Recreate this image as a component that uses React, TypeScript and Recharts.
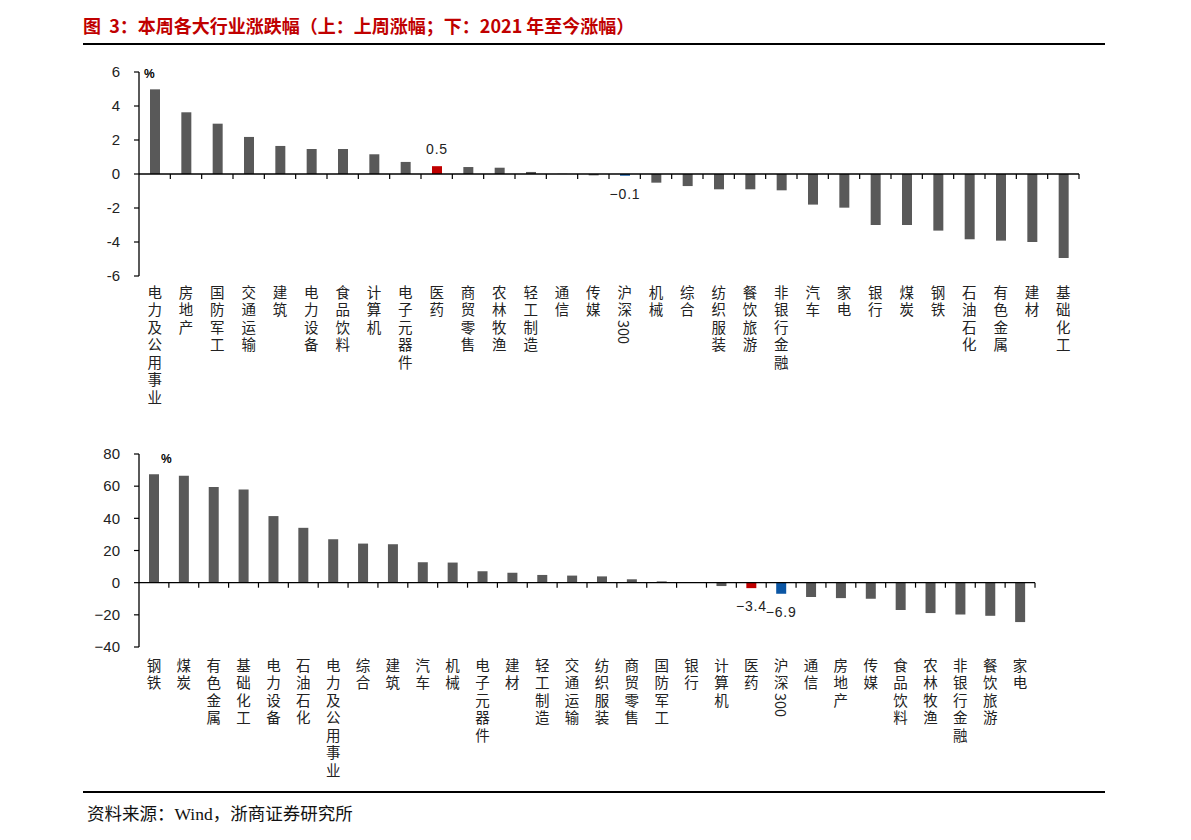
import { BarChart, Bar, XAxis, YAxis, Cell, ReferenceLine, LabelList } from "recharts"

// 上周涨幅
const weekCats = [
  "电力及公用事业", "房地产", "国防军工", "交通运输", "建筑", "电力设备", "食品饮料", "计算机",
  "电子元器件", "医药", "商贸零售", "农林牧渔", "轻工制造", "通信", "传媒", "沪深300", "机械",
  "综合", "纺织服装", "餐饮旅游", "非银行金融", "汽车", "家电", "银行", "煤炭", "钢铁",
  "石油石化", "有色金属", "建材", "基础化工",
]
const weekVals = [
  4.98, 3.63, 2.96, 2.18, 1.65, 1.47, 1.47, 1.16, 0.71, 0.46, 0.41, 0.37, 0.12, 0.01, -0.08,
  -0.1, -0.51, -0.71, -0.9, -0.9, -0.96, -1.8, -1.98, -3.0, -3.0, -3.33, -3.84, -3.92, -4.0, -4.94,
]
const weekTicks = [-6, -4, -2, 0, 2, 4, 6]

// 2021 年至今涨幅
const ytdCats = [
  "钢铁", "煤炭", "有色金属", "基础化工", "电力设备", "石油石化", "电力及公用事业", "综合", "建筑",
  "汽车", "机械", "电子元器件", "建材", "轻工制造", "交通运输", "纺织服装", "商贸零售", "国防军工",
  "银行", "计算机", "医药", "沪深300", "通信", "房地产", "传媒", "食品饮料", "农林牧渔",
  "非银行金融", "餐饮旅游", "家电",
]
const ytdVals = [
  67.4, 66.5, 59.5, 58.0, 41.4, 34.1, 27.0, 24.3, 23.9, 12.7, 12.5, 7.1, 6.2, 4.8, 4.4, 3.9,
  2.1, 0.8, 0.1, -2.1, -3.4, -6.9, -8.9, -9.6, -10.0, -17.0, -18.9, -19.8, -20.6, -24.5,
]
const ytdTicks = [-40, -20, 0, 20, 40, 60, 80]

const highlight: Record<string, string> = { "医药": "#C00000", "沪深300": "#0B56A4" }
const GRAY = "#595959"

const numFont = '"Liberation Sans", Arial, sans-serif'
const cjkFont = '"Noto Sans CJK SC", sans-serif'

const CatTick = (dy: number) => ({ x, y, payload }: any) => {
  const parts = String(payload.value).split(/(\d+)/).filter((s) => s)
  return (
    <text
      x={x}
      y={y + dy}
      style={{ writingMode: "vertical-rl" }}
      fontSize={14.5}
      fill="#222"
      fontFamily={cjkFont}
    >
      {parts.map((s, i) => (
        <tspan key={i} letterSpacing={/\d/.test(s) ? 0 : 3}>{s}</tspan>
      ))}
    </text>
  )
}

const zeroAxis = (n: number) => (p: any) => {
  const { x1, x2, y1 } = p
  const step = (x2 - x1) / n
  return (
    <g>
      <line x1={x1} x2={x2} y1={y1} y2={y1} stroke="#000" strokeWidth={1.3} />
      {Array.from({ length: n }, (_, i) => (
        <line key={i} x1={x1 + step * (i + 1)} x2={x1 + step * (i + 1)} y1={y1} y2={y1 + 5} stroke="#000" strokeWidth={1.2} />
      ))}
    </g>
  )
}

const valueLabel = (cats: string[]) => (p: any) => {
  const { x, y, width, height, value, index } = p
  if (!highlight[cats[index]]) return null
  const top = Math.min(y, y + height)
  const bottom = Math.max(y, y + height)
  const cy = value >= 0 ? top - 17 : bottom + 18
  return (
    <text x={x + width / 2} y={cy} textAnchor="middle" dominantBaseline="central" fontSize={14}
      letterSpacing={0.8} fill="#222" fontFamily={numFont}>
      {Number(value).toFixed(1).replace("-", "−")}
    </text>
  )
}

interface PanelProps {
  cats: string[]
  vals: number[]
  ticks: number[]
  top: number
  marginTop: number
  marginRight: number
  axisHeight: number
  labelDy: number
  minus: boolean
}

function Panel({ cats, vals, ticks, top, marginTop, marginRight, axisHeight, labelDy, minus }: PanelProps) {
  const data = cats.map((name, i) => ({ name, value: vals[i] }))
  const Tick = CatTick(labelDy)
  return (
    <div style={{ position: "absolute", left: 0, top }}>
      <BarChart width={1191} height={420} data={data}
        margin={{ top: marginTop, right: marginRight, left: 0, bottom: 0 }}>
        <XAxis dataKey="name" interval={0} axisLine={false} tickLine={false} tickSize={0}
          tickMargin={0} height={axisHeight} tick={<Tick />} />
        <YAxis width={139} domain={[ticks[0], ticks[ticks.length - 1]]} ticks={ticks}
          interval={0} axisLine={{ stroke: "#000", strokeWidth: 1.3 }}
          tickLine={{ stroke: "#000", strokeWidth: 1.2 }} tickSize={5} tickMargin={14}
          tick={{ fontSize: 15, fill: "#222", fontFamily: numFont }}
          tickFormatter={(v: number) => (minus ? String(v).replace("-", "−") : String(v))} />
        <ReferenceLine y={0} shape={zeroAxis(cats.length)} />
        <Bar dataKey="value" barSize={10} isAnimationActive={false}>
          {data.map((d, i) => (
            <Cell key={i} fill={highlight[d.name] || GRAY} />
          ))}
          <LabelList dataKey="value" content={valueLabel(cats)} />
        </Bar>
      </BarChart>
    </div>
  )
}

export default function App() {
  return (
    <div style={{ position: "absolute", left: 0, top: 0, width: 1191, height: 840, background: "#fff" }}>
      <div style={{ position: "absolute", left: 83, top: 12, fontFamily: cjkFont, fontWeight: 700,
        fontSize: 18, color: "#C00000", whiteSpace: "pre" }}>
        {"图  3：本周各大行业涨跌幅（上：上周涨幅；下：2021 年至今涨幅）"}
      </div>
      <div style={{ position: "absolute", left: 83, top: 43, width: 1022, height: 2, background: "#000" }} />

      <Panel cats={weekCats} vals={weekVals} ticks={weekTicks} top={0} marginTop={72}
        marginRight={112} axisHeight={144} labelDy={9} minus={false} />
      <Panel cats={ytdCats} vals={ytdVals} ticks={ytdTicks} top={380} marginTop={74}
        marginRight={156} axisHeight={153} labelDy={11} minus={true} />

      <div style={{ position: "absolute", left: 144, top: 67, fontFamily: numFont, fontWeight: 700, fontSize: 12 }}>%</div>
      <div style={{ position: "absolute", left: 161, top: 452, fontFamily: numFont, fontWeight: 700, fontSize: 12 }}>%</div>

      <div style={{ position: "absolute", left: 83, top: 791, width: 1022, height: 2, background: "#000" }} />
      <div style={{ position: "absolute", left: 87, top: 800, fontFamily: '"Liberation Serif", "Noto Sans CJK SC", serif',
        fontSize: 17.5, color: "#111", whiteSpace: "nowrap" }}>
        资料来源：Wind，浙商证券研究所
      </div>
    </div>
  )
}
